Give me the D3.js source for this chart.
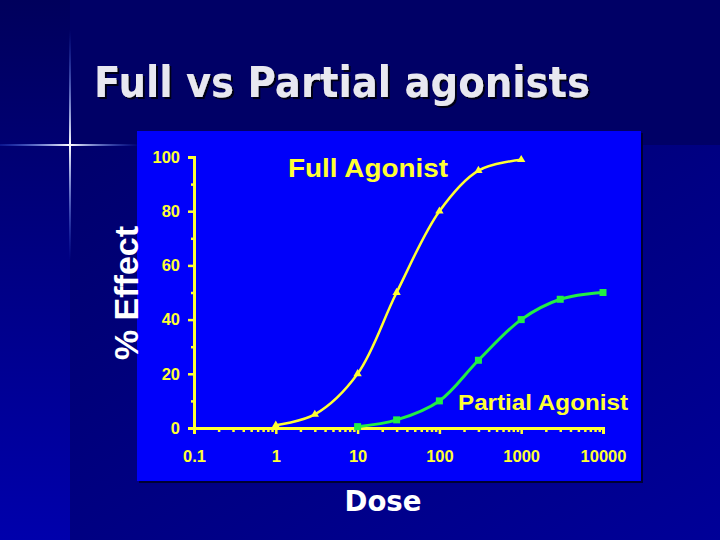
<!DOCTYPE html>
<html lang="en">
<head>
<meta charset="utf-8">
<title>Full vs Partial agonists</title>
<script src="https://d3js.org/d3.v7.min.js"></script>
<style>
  html, body { margin: 0; padding: 0; background: #000066; }
  svg { display: block; }
</style>
</head>
<body>
<script>
// Data
const fullDose = [1, 3, 10, 30, 100, 300, 1000];
const fullEffect = [1, 5, 20, 50, 80, 95, 99];
const partialDose = [10, 30, 100, 300, 1000, 3000, 10000];
const partialEffect = [0.5, 3, 10, 25, 40, 47.5, 50];
const xTicks = [0.1, 1, 10, 100, 1000, 10000];
const yTicks = [0, 20, 40, 60, 80, 100];

const width = 720, height = 540;
const plotLeft = 194, plotRight = 603, plotTop = 157, plotBottom = 428;

const svg = d3.select("body").append("svg")
  .attr("width", width).attr("height", height);

const defs = svg.append("defs");
const g1 = defs.append("linearGradient").attr("id", "panel")
  .attr("x1", 0).attr("y1", 0).attr("x2", 1).attr("y2", 1);
g1.append("stop").attr("offset", 0).attr("stop-color", "#00006c");
g1.append("stop").attr("offset", 1).attr("stop-color", "#000098");
const g2 = defs.append("linearGradient").attr("id", "strip")
  .attr("x1", 0).attr("y1", 0).attr("x2", 0).attr("y2", 1);
g2.append("stop").attr("offset", 0).attr("stop-color", "#00005c");
g2.append("stop").attr("offset", 1).attr("stop-color", "#0000ac");
const gv = defs.append("linearGradient").attr("id", "vglow")
  .attr("x1", 0).attr("y1", 0).attr("x2", 0).attr("y2", 1);
gv.append("stop").attr("offset", 0).attr("stop-color", "#3a6cff").attr("stop-opacity", 0);
gv.append("stop").attr("offset", 0.5).attr("stop-color", "#ffffff");
gv.append("stop").attr("offset", 1).attr("stop-color", "#3a6cff").attr("stop-opacity", 0);
const gh = defs.append("linearGradient").attr("id", "hglow")
  .attr("x1", 0).attr("y1", 0).attr("x2", 1).attr("y2", 0);
gh.append("stop").attr("offset", 0).attr("stop-color", "#3a6cff").attr("stop-opacity", 0.2);
gh.append("stop").attr("offset", 0.5).attr("stop-color", "#ffffff");
gh.append("stop").attr("offset", 1).attr("stop-color", "#3a6cff").attr("stop-opacity", 0);
defs.append("filter").attr("id", "shadow")
  .append("feDropShadow").attr("dx", 2).attr("dy", 2).attr("stdDeviation", 0.6)
  .attr("flood-color", "#000018").attr("flood-opacity", 1);

// Background
svg.append("rect").attr("width", width).attr("height", height).attr("fill", "#000066");
svg.append("rect").attr("x", 70).attr("y", 145).attr("width", 650).attr("height", 395)
  .attr("fill", "url(#panel)");
svg.append("rect").attr("x", 0).attr("y", 0).attr("width", 70).attr("height", 540)
  .attr("fill", "url(#strip)");
svg.append("rect").attr("x", 69).attr("y", 30).attr("width", 2).attr("height", 230)
  .attr("fill", "url(#vglow)");
svg.append("rect").attr("x", 0).attr("y", 144).attr("width", 140).attr("height", 2)
  .attr("fill", "url(#hglow)");

// Title
svg.append("text").attr("x", 94).attr("y", 97)
  .attr("font-family", "DejaVu Sans").attr("font-weight", "bold")
  .attr("font-size", 43).attr("fill", "#e8e8f0")
  .attr("textLength", 496).attr("lengthAdjust", "spacingAndGlyphs")
  .attr("filter", "url(#shadow)")
  .text("Full vs Partial agonists");

// Plot box
svg.append("rect").attr("x", 139).attr("y", 133).attr("width", 504).attr("height", 350)
  .attr("fill", "#000033");
svg.append("rect").attr("x", 137).attr("y", 131).attr("width", 504).attr("height", 350)
  .attr("fill", "#0000fa");

// Scales
const x = d3.scaleLog().domain([0.1, 10000]).range([plotLeft, plotRight]);
const y = d3.scaleLinear().domain([0, 100]).range([plotBottom, plotTop]);

const yellow = "#ffff33";
const green = "#22ee44";
const font = "Liberation Sans, Arial, sans-serif";

// Axes
const minorX = [];
for (let d = 0.1; d < 10000; d *= 10) {
  for (let k = 2; k <= 9; k++) minorX.push(d * k);
}
const xMinor = svg.append("g").attr("transform", `translate(0,${plotBottom})`)
  .call(d3.axisBottom(x).tickValues(minorX).tickSize(4).tickFormat(""));
const xAxis = svg.append("g").attr("transform", `translate(0,${plotBottom})`)
  .call(d3.axisBottom(x).tickValues(xTicks).tickSize(6).tickPadding(16)
    .tickFormat(d => d < 1 ? "0.1" : d3.format("d")(d)));
const yMinor = svg.append("g").attr("transform", `translate(${plotLeft},0)`)
  .call(d3.axisLeft(y).tickValues([10, 30, 50, 70, 90]).tickSize(3).tickFormat(""));
const yAxis = svg.append("g").attr("transform", `translate(${plotLeft},0)`)
  .call(d3.axisLeft(y).tickValues(yTicks).tickSize(6).tickPadding(8));

[xMinor, xAxis, yMinor, yAxis].forEach(a => {
  a.selectAll("path").attr("stroke", yellow).attr("stroke-width", 3);
  a.selectAll("line").attr("stroke", yellow).attr("stroke-width", 2.5);
  a.selectAll("text").attr("fill", yellow).attr("font-family", font)
    .attr("font-weight", "bold").attr("font-size", 16.5);
});

// Curves
const line = d3.line()
  .x(d => x(d[0])).y(d => y(d[1]))
  .curve(d3.curveCatmullRom.alpha(0.5));

const fullData = d3.zip(fullDose, fullEffect);
const partialData = d3.zip(partialDose, partialEffect);

svg.append("path").datum(fullData)
  .attr("d", line).attr("fill", "none")
  .attr("stroke", yellow).attr("stroke-width", 2.5);
svg.append("path").datum(partialData)
  .attr("d", line).attr("fill", "none")
  .attr("stroke", green).attr("stroke-width", 3);

const tri = d3.symbol().type(d3.symbolTriangle).size(30);
svg.selectAll(".tri").data(fullData).enter().append("path")
  .attr("class", "tri")
  .attr("transform", d => `translate(${x(d[0])},${y(d[1])})`)
  .attr("d", tri).attr("fill", yellow);

svg.selectAll(".sq").data(partialData).enter().append("rect")
  .attr("class", "sq")
  .attr("x", d => x(d[0]) - 3.5).attr("y", d => y(d[1]) - 3.5)
  .attr("width", 7).attr("height", 7).attr("fill", green);

// Series labels
svg.append("text").attr("x", 288).attr("y", 177)
  .attr("font-family", font).attr("font-weight", "bold").attr("font-size", 25)
  .attr("textLength", 160).attr("lengthAdjust", "spacingAndGlyphs")
  .attr("fill", yellow).text("Full Agonist");
svg.append("text").attr("x", 458).attr("y", 410)
  .attr("font-family", font).attr("font-weight", "bold").attr("font-size", 22.5)
  .attr("textLength", 170).attr("lengthAdjust", "spacingAndGlyphs")
  .attr("fill", yellow).text("Partial Agonist");

// Axis titles
svg.append("text").attr("transform", "translate(138,293) rotate(-90)")
  .attr("text-anchor", "middle")
  .attr("font-family", font).attr("font-weight", "bold").attr("font-size", 34)
  .attr("fill", "#ffffff").text("% Effect");
svg.append("text").attr("x", 383).attr("y", 511).attr("text-anchor", "middle")
  .attr("font-family", "DejaVu Sans").attr("font-weight", "bold").attr("font-size", 29)
  .attr("textLength", 77).attr("lengthAdjust", "spacingAndGlyphs")
  .attr("fill", "#ffffff").text("Dose");
</script>
</body>
</html>
